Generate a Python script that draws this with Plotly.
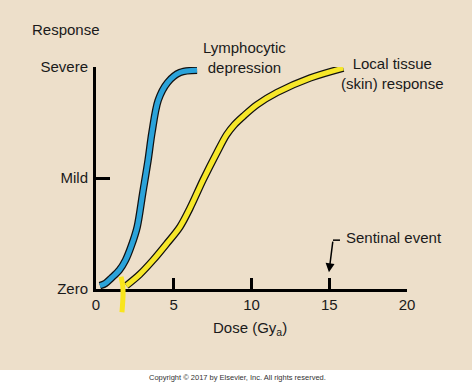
import plotly.graph_objects as go

# ---------------- data ----------------
dose_ticks = [0, 5, 10, 15, 20]
dose_labels = ["0", "5", "10", "15", "20"]
resp_ticks = [0, 1, 2]
resp_labels = ["Zero", "Mild", "Severe"]

lymph_dose = [0.25, 0.6, 1.0, 1.5, 1.9, 2.3, 2.65, 3.0, 3.35, 3.6, 4.0, 4.6, 5.4, 6.5]
lymph_resp = [0.03, 0.05, 0.10, 0.17, 0.26, 0.40, 0.56, 0.86, 1.16, 1.41, 1.70, 1.86, 1.95, 1.97]

skin_dose = [1.95, 2.8, 3.67, 4.5, 5.4, 6.05, 6.88, 7.78, 8.4, 8.9, 9.5, 10.35, 11.64, 13.76, 15.9]
skin_resp = [0.03, 0.13, 0.26, 0.40, 0.56, 0.73, 0.98, 1.23, 1.39, 1.48, 1.56, 1.66, 1.77, 1.90, 1.99]

mark_dose = [1.61, 1.72, 1.74, 1.67]
mark_resp = [0.11, 0.03, -0.05, -0.21]

sentinel_dose = 15
sentinel_tip = 0.15

# ---------------- layout geometry ----------------
W, H = 474, 383
xdom = [96 / W, 407 / W]
ydom = [94 / H, 316 / H]
xr = [0, 20]
yr = [0, 2]
# overlay axes covering the whole figure with identical scale
sx = (xr[1] - xr[0]) / (xdom[1] - xdom[0])
sy = (yr[1] - yr[0]) / (ydom[1] - ydom[0])
x2r = [xr[0] - xdom[0] * sx, xr[0] + (1 - xdom[0]) * sx]
y2r = [yr[0] - ydom[0] * sy, yr[0] + (1 - ydom[0]) * sy]

FONT = "Liberation Sans, Arial, sans-serif"
BG = "#EDDFCA"
BLUE = "#2BA3DA"
YELLOW = "#F6E729"
TXT = "#1a1a1a"

fig = go.Figure()

for xs, ys, col in [(lymph_dose, lymph_resp, BLUE), (skin_dose, skin_resp, YELLOW)]:
    fig.add_trace(go.Scatter(x=xs, y=ys, mode="lines", line=dict(color="#111", width=7.5, shape="spline", smoothing=0.9),
                             hoverinfo="skip", showlegend=False))
    fig.add_trace(go.Scatter(x=xs, y=ys, mode="lines", line=dict(color=col, width=5, shape="spline", smoothing=0.9),
                             hoverinfo="skip", showlegend=False))

fig.add_trace(go.Scatter(x=mark_dose, y=mark_resp, mode="lines", xaxis="x2", yaxis="y2",
                         line=dict(color="#F9E51C", width=5, shape="spline"), hoverinfo="skip", showlegend=False))

axis_common = dict(showgrid=False, zeroline=False, showline=True, linecolor="black", linewidth=3,
                   ticks="inside", tickcolor="black", tickwidth=3, automargin=False,
                   tickfont=dict(family=FONT, size=15, color=TXT))

def label(text, **kw):
    d = dict(text=text, showarrow=False, xanchor="center", yanchor="middle",
             font=dict(family=FONT, size=15, color=TXT))
    d.update(kw)
    return d

fig.update_layout(
    width=W, height=H,
    margin=dict(l=0, r=0, t=0, b=0, autoexpand=False),
    paper_bgcolor="white",
    plot_bgcolor="rgba(0,0,0,0)",
    xaxis=dict(domain=xdom, range=xr, tickvals=dose_ticks, ticktext=dose_labels, ticklen=11,
               anchor="y", **axis_common),
    yaxis=dict(domain=ydom, range=yr, tickvals=resp_ticks, ticktext=resp_labels, ticklen=14,
               anchor="x", ticklabelstandoff=2, **axis_common),
    xaxis2=dict(domain=[0, 1], range=x2r, visible=False, anchor="y2", automargin=False),
    yaxis2=dict(domain=[0, 1], range=y2r, visible=False, anchor="x2", automargin=False),
    shapes=[
        dict(type="rect", xref="paper", yref="paper", x0=0, x1=472 / W, y0=1 - 370 / H, y1=1,
             fillcolor=BG, line=dict(width=0), layer="below"),
        dict(type="line", xref="x", yref="y", x0=15.24, x1=15.69, y0=0.44, y1=0.44,
             line=dict(color="black", width=1.5)),
    ],
    annotations=[
        label("Response", xref="paper", yref="paper", x=65.5 / W, y=1 - 29 / H),
        label("Dose (Gy<sub>a</sub>)", xref="paper", yref="paper", x=250 / W, y=1 - 328 / H),
        label("Lymphocytic<br>depression", xref="x2", yref="y2", x=9.52, y=2.085),
        label("Local tissue<br>(skin) response", xref="x2", yref="y2", x=19.04, y=1.937),
        label("Sentinal event", xref="x", yref="y", x=15.95, y=0.46, xanchor="left"),
        dict(text="", xref="x", yref="y", x=sentinel_dose - 0.02, y=sentinel_tip, axref="x", ayref="y",
             ax=15.24, ay=0.44, showarrow=True, arrowhead=2, arrowsize=1.2, arrowwidth=1.5, arrowcolor="black"),
        dict(text="Copyright © 2017 by Elsevier, Inc. All rights reserved.", xref="paper", yref="paper",
             x=237 / W, y=1 - 377 / H, showarrow=False, xanchor="center", yanchor="middle",
             font=dict(family=FONT, size=7.5, color="#333")),
    ],
)

fig.write_html("out.html", config={"displayModeBar": False},
               post_script="document.body.style.margin='0';document.body.style.overflow='hidden';")
